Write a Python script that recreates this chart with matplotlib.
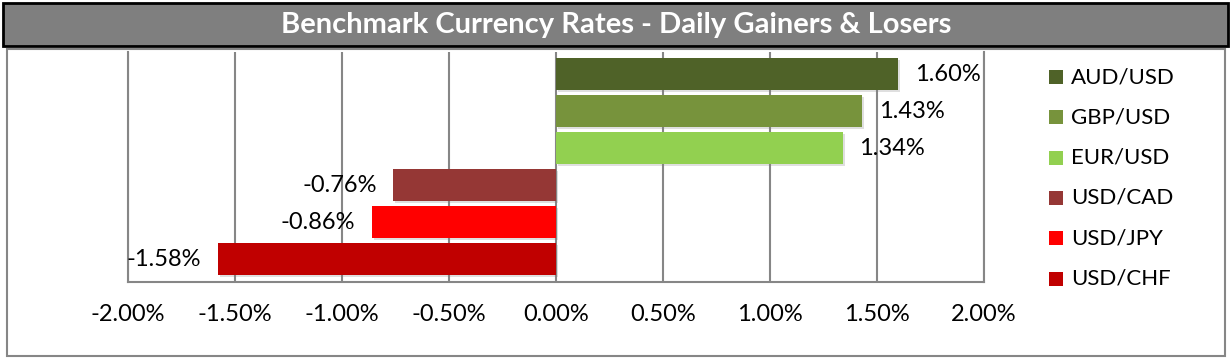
import matplotlib.pyplot as plt
import matplotlib.patheffects as pe
from matplotlib.patches import Rectangle
import numpy as np

plt.rcParams['font.family'] = ['Lato', 'DejaVu Sans']

pairs = ['AUD/USD', 'GBP/USD', 'EUR/USD', 'USD/CAD', 'USD/JPY', 'USD/CHF']
changes = [1.60, 1.43, 1.34, -0.76, -0.86, -1.58]
colors = ['#4F6228', '#77933C', '#92D050', '#953735', '#FF0000', '#C00000']
xticks = [-2.0, -1.5, -1.0, -0.5, 0.0, 0.5, 1.0, 1.5, 2.0]
title = 'Benchmark Currency Rates - Daily Gainers & Losers'

W, H = 1231, 362
fig = plt.figure(figsize=(W / 100, H / 100), dpi=100)
fig.patch.set_facecolor('white')

# title bar
fig.patches.append(Rectangle((3 / W, 1 - 46 / H), 1225 / W, 43 / H, transform=fig.transFigure,
                             facecolor='#7F7F7F', edgecolor='black', lw=2, zorder=1))
fig.text(616 / W, 1 - 25 / H, title, ha='center', va='center', color='white',
         fontsize=21, fontweight='bold')

# chart border
fig.patches.append(Rectangle((7 / W, 1 - 356 / H), 1218 / W, 307 / H, transform=fig.transFigure,
                             facecolor='none', edgecolor='#868686', lw=1.5, zorder=1))

ax = fig.add_axes([128 / W, 80 / H, 856 / W, 230 / H])
ypos = np.arange(len(pairs))[::-1]
bars = ax.barh(ypos, changes, height=0.865, color=colors, zorder=3)
for b in bars:
    b.set_path_effects([pe.SimplePatchShadow(offset=(1.5, -1.5), shadow_rgbFace='#808080', alpha=0.25),
                        pe.Normal()])
ax.bar_label(bars, labels=[f'{v:.2f}%' for v in changes], padding=12, fontsize=17, color='black')

ax.set_xlim(-2, 2)
ax.set_ylim(-0.62, 5.595)
ax.set_xticks(xticks)
ax.set_xticklabels([f'{v:.2f}%' for v in xticks], fontsize=17)
ax.set_yticks([])
ax.tick_params(axis='x', length=0, pad=16)
ax.xaxis.grid(True, color='#868686', lw=1.5, zorder=0)
ax.set_axisbelow(True)
ax.spines['top'].set_visible(False)
for s in ['left', 'right', 'bottom']:
    ax.spines[s].set_color('#868686')
    ax.spines[s].set_linewidth(1.5)

# legend
for i, (p, c) in enumerate(zip(pairs, colors)):
    yc = 77 + i * 40.3
    fig.patches.append(Rectangle((1049 / W, 1 - (yc + 7) / H), 14 / W, 14 / H,
                                 transform=fig.transFigure, facecolor=c, edgecolor='none'))
    fig.text(1071 / W, 1 - yc / H, p, ha='left', va='center', fontsize=16, color='black')

fig.savefig('out.png', dpi=100)
